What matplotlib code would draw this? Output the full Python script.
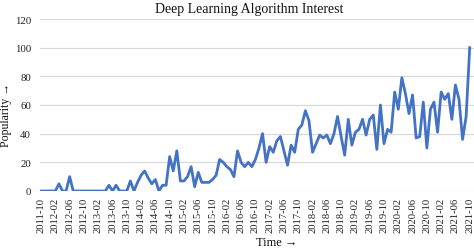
import matplotlib
matplotlib.use("Agg")
import matplotlib.pyplot as plt
import numpy as np
import pandas as pd

dates = pd.period_range("2011-10", "2021-10", freq="M").strftime("%Y-%m").tolist()
values = [
    0, 0, 0, 0, 0, 5, 0, 0, 10, 0,          # 2011-10 .. 2012-07
    0, 0, 0, 0, 0, 0, 0, 0, 0, 4,           # 2012-08 .. 2013-05
    0, 4, 0, 0, 0, 7, 0, 6, 11, 14,         # 2013-06 .. 2014-03
    9, 5, 8, 0, 4, 4, 24, 14, 28, 7,        # 2014-04 .. 2015-01
    7, 10, 17, 3, 13, 6, 6, 6, 8, 11,       # 2015-02 .. 2015-11
    22, 20, 17, 15, 10, 28, 20, 17, 20, 17, # 2015-12 .. 2016-09
    22, 30, 40, 20, 31, 27, 35, 38, 28, 18, # 2016-10 .. 2017-07
    32, 27, 43, 46, 56, 49, 27, 33, 39, 37, # 2017-08 .. 2018-05
    39, 33, 40, 52, 38, 25, 50, 32, 41, 43, # 2018-06 .. 2019-03
    50, 39, 50, 53, 29, 60, 33, 43, 41, 69, # 2019-04 .. 2020-01
    57, 79, 68, 54, 67, 37, 38, 62, 30, 57, # 2020-02 .. 2020-11
    62, 41, 69, 64, 68, 50, 74, 64, 36, 52, # 2020-12 .. 2021-09
    100,                                    # 2021-10
]
tick_labels = dates[::4]
yticks = [0, 20, 40, 60, 80, 100, 120]

serif = ["Liberation Serif", "DejaVu Serif"]
plt.rcParams["font.family"] = serif

W, H = 474, 251
fig = plt.figure(figsize=(W / 100, H / 100), dpi=100)
ax = fig.add_axes([40 / W, 1 - 192 / H, 434 / W, 172 / H])
x = np.arange(len(values))
ax.plot(x, values, color="#4472C4", linewidth=2.0, solid_joinstyle="round")

ax.set_xlim(-0.3, 121.2)
ax.set_ylim(0, 120)
ax.set_yticks(yticks)
ax.set_yticklabels([str(v) for v in yticks], fontsize=7.8, color="#222222")
ax.set_xticks(x[::4])
ax.set_xticklabels(tick_labels, rotation=90, fontsize=7.7, color="#222222")
ax.tick_params(axis="y", length=0, pad=6.5)
ax.tick_params(axis="x", length=0, pad=4)
ax.grid(axis="y", color="#d9d9d9", linewidth=0.9)
ax.set_axisbelow(True)
for s in ax.spines.values():
    s.set_visible(False)

fig.text(249 / W, 1 - 10 / H, "Deep Learning Algorithm Interest",
         fontsize=10, ha="center", va="center", color="#111111")
fig.text(6 / W, 1 - 115 / H, "Popularity \u2192", rotation=90,
         fontsize=8.5, ha="center", va="center", color="#111111")
fig.text(277 / W, 1 - 243 / H, "Time \u2192",
         fontsize=9, ha="center", va="center", color="#111111")

fig.savefig("out.png", dpi=100)
